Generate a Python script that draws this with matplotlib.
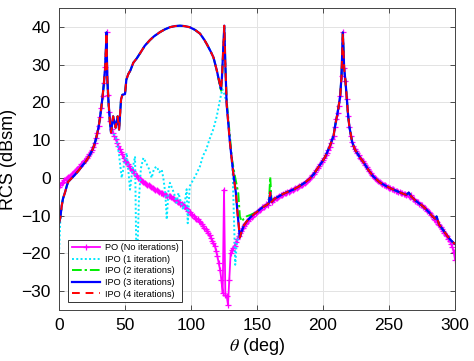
import numpy as np
import matplotlib
matplotlib.use("Agg")
import matplotlib.pyplot as plt

plt.rcParams['font.family'] = ['Liberation Sans', 'DejaVu Sans']
plt.rcParams['mathtext.fontset'] = 'stix'

# ---------------- data ----------------
# PO (no iterations), sampled every degree 0..300
po_theta = np.arange(0, 301)
po_db = [
    -2.3, -1.8, -1.4, -1.0, -0.6, -0.3, 0.0, 0.2, 0.4, 0.7,          # 0-9
    1.0, 1.3, 1.7, 2.0, 2.4, 2.8, 3.2, 3.6, 4.0, 4.4,                # 10-19
    4.8, 5.2, 5.7, 6.2, 6.8, 7.4, 8.2, 9.2, 10.6, 12.0,              # 20-29
    13.8, 16.0, 18.5, 21.6, 25.0, 29.3, 38.5, 22.0, 17.5, 15.0,      # 30-39
    13.0, 12.0, 11.0, 10.2, 9.3, 8.4, 7.6, 6.9, 6.2, 5.4,            # 40-49
    4.6, 4.1, 3.6, 3.1, 2.6, 2.1, 1.7, 1.3, 0.9, 0.5,                # 50-59
    0.1, -0.2, -0.5, -0.8, -1.1, -1.3, -1.6, -1.8, -2.0, -2.2,       # 60-69
    -2.5, -2.7, -2.9, -3.1, -3.3, -3.5, -3.7, -3.9, -4.1, -4.3,      # 70-79
    -4.4, -4.5, -4.7, -4.8, -4.9, -5.1, -5.3, -5.5, -5.8, -6.0,      # 80-89
    -6.3, -6.5, -6.8, -7.0, -7.3, -7.5, -7.9, -8.3, -8.7, -9.1,      # 90-99
    -9.5, -9.9, -10.2, -10.5, -10.8, -11.0, -11.4, -11.8, -12.2, -12.7,  # 100-109
    -13.2, -13.6, -14.0, -14.5, -15.2, -15.9, -16.6, -17.3, -18.0, -19.3,  # 110-119
    -20.8, -22.5, -24.3, -27.0, -30.5, -3.1, -31.0, -31.2, -33.6, -27.0,   # 120-129
    -20.0, -19.0, -18.5, -18.0, -17.0, -16.3, -15.5, -14.6, -14.0, -13.3,  # 130-139
    -12.8, -12.3, -11.9, -11.5, -11.0, -10.6, -10.3, -10.0, -9.6, -9.3,    # 140-149
    -9.0, -8.8, -8.4, -8.2, -7.8, -7.7, -7.4, -7.0, -7.2, -6.4,      # 150-159
    -5.5, -6.5, -5.8, -5.6, -5.3, -5.2, -5.0, -4.8, -4.5, -4.4,      # 160-169
    -4.2, -4.0, -3.9, -3.7, -3.6, -3.4, -3.3, -3.1, -3.0, -2.8,      # 170-179
    -2.6, -2.4, -2.2, -2.0, -1.8, -1.6, -1.3, -1.0, -0.7, -0.4,      # 180-189
    -0.1, 0.3, 0.7, 1.1, 1.6, 2.1, 2.6, 3.1, 3.6, 4.1,               # 190-199
    4.7, 5.3, 6.0, 6.7, 7.4, 8.3, 9.3, 10.2, 11.2, 13.5,             # 200-209
    15.5, 17.2, 19.0, 21.6, 27.0, 38.5, 29.0, 25.6, 21.0, 16.5,      # 210-219
    13.5, 11.2, 9.6, 8.5, 7.6, 7.0, 6.5, 6.0, 5.4, 4.9,              # 220-229
    4.4, 4.0, 3.4, 2.8, 2.3, 1.8, 1.3, 0.8, 0.4, 0.0,                # 230-239
    -0.3, -0.6, -0.9, -1.2, -1.4, -1.6, -1.8, -2.0, -2.2, -2.4,      # 240-249
    -2.6, -2.8, -2.9, -3.0, -3.2, -3.4, -3.5, -3.7, -3.8, -3.9,      # 250-259
    -4.1, -4.2, -4.3, -4.5, -4.3, -4.8, -5.0, -4.6, -5.5, -5.6,      # 260-269
    -6.0, -6.3, -6.5, -6.8, -7.1, -7.3, -7.6, -8.0, -8.3, -8.7,      # 270-279
    -9.0, -9.4, -9.9, -10.3, -10.8, -11.2, -11.7, -12.1, -12.6, -13.0,   # 280-289
    -13.5, -14.0, -14.5, -15.0, -15.5, -16.1, -16.8, -17.4, -18.3, -19.5,  # 290-299
    -21.7,                                                           # 300
]

# Converged IPO (3 and 4 iterations coincide)
ipo_theta = [0, 1, 2, 3, 4.5, 6, 7, 9, 12, 15, 18, 20, 22, 24, 26, 28, 29, 30, 31, 32,
             33, 34, 35, 36, 36.5, 37.4, 38.5, 39.4, 41, 42.9, 44.4, 45.5, 47, 48, 50, 51,
             52.5, 54, 56.3, 58.8, 61.4, 65, 68.9, 72, 76.5, 80, 84, 88, 91.7, 95, 99, 103,
             106.8, 110, 112, 115, 117, 119.5, 121.9, 122.7, 123.5, 125.2, 126, 127, 129.5,
             132, 134, 135, 136, 137, 138, 140, 142, 145, 148, 150, 153, 156, 158, 159, 160,
             161, 163, 166, 170, 174, 178, 182, 186, 190, 193, 196, 199, 201.5, 203, 205,
             207, 208, 209, 211, 213, 214, 215, 216, 217, 218, 219, 220, 222, 224, 226, 228,
             231, 234, 238, 243, 248, 252, 256, 260, 263, 265, 267, 270, 273, 276, 280, 283,
             285, 286, 288, 291, 294, 296, 298, 300]
ipo_conv_db = [-12, -10.5, -7.5, -5.5, -3.9, -2, -1, -0.3, 0.8, 2.0, 3.4, 4.2, 5.3, 6.5, 8.0,
               10.3, 11.8, 13.5, 15.8, 18.5, 21.6, 25, 29.3, 38.5, 27, 20.8, 15, 12, 16.3,
               13.3, 16.3, 12.8, 20.8, 22, 22.2, 26, 27.5, 28.4, 30.5, 31.6, 33, 35, 36.5,
               37.5, 38.6, 39.3, 39.9, 40.2, 40.3, 40.2, 39.9, 39.2, 38.2, 36.6, 35.4, 33.4,
               31.9, 28.5, 24.8, 23.5, 27, 40.3, 30, 19.5, 9.3, 1.3, -4, -8.4, -12, -15.8,
               -14.5, -12.6, -11.6, -10.4, -9.5, -9.0, -8.1, -7.4, -7.0, -6.6, -3.8, -6.4,
               -5.6, -5.0, -4.2, -3.6, -3.0, -2.2, -1.3, -0.2, 1.0, 2.6, 4.1, 5.5, 6.7, 8.3,
               10.2, 11.2, 13.5, 17.2, 21.6, 27, 38.5, 29, 25.6, 21, 16.5, 13.5, 9.6, 7.6,
               6.5, 5.4, 4.0, 2.3, 0.4, -1.2, -2.2, -2.9, -3.5, -4.1, -4.5, -3.9, -5.0, -6.0,
               -6.8, -7.6, -9.0, -10.2, -10.8, -10.2, -12.4, -13.8, -15.3, -16.2, -16.9, -17.5]

# IPO (2 iterations): differs from the converged curve between 119 and 167 deg
ipo2_seg_theta = [119.5, 121, 122.7, 123.5, 125.2, 126, 127, 129.5, 131, 133.3, 135.8, 137,
                  138.4, 140, 142, 145, 148, 150, 153, 156, 158, 159, 160, 161, 163, 166]
ipo2_seg_db = [28.5, 25.8, 22.8, 26.5, 40.2, 30, 20.5, 11, 5, 0.4, -4, -10.2, -11.5, -10.8,
               -10.2, -9.8, -9.3, -9.0, -8.0, -7.4, -7.0, -6.5, 0.3, -6.2, -5.4, -5.0]

# IPO (1 iteration): its own start and its own middle section 36.5..136 deg
ipo1_start_theta = [0, 1, 2]
ipo1_start_db = [-20, -11, -7.5]
ipo1_seg_theta = [37, 38, 39, 40, 42, 43.7, 45.5, 47.5, 49.5, 51.3, 53.8, 55.5, 57.6, 58.8,
                  60.5, 62, 63.9, 66, 68, 70.2, 72, 74, 76, 77.8, 79, 80.5, 81.6, 83, 84, 86,
                  88, 89, 90.5, 92, 94, 95.5, 96.7, 97.5, 99, 101.7, 104, 106.8, 109, 111.5,
                  114, 117, 119.5, 122, 123.7, 125.5, 127, 129.5, 131.5, 132.5, 133.5, 134.5,
                  135.6, 137]
ipo1_seg_db = [21, 17, 14.5, 12.5, 11.3, 10.2, 6, 0, 4, 6.6, -3.1, 2, 5.7, -27, -6, 2.5, 5.3,
               4, 2.5, 0, 2.5, 3, 1.5, 2.2, 0, -4, -11, -3, -1.3, -3, -5, -6.6, -4, -6, -8.4,
               -6, -3, -12, -2.2, -0.5, 1, 3.1, 5.8, 7.5, 10.2, 13, 16.3, 20.8, 23.5, 22,
               19.5, 9.3, 2, -10, -23, -18, -15.5, -15.8]

labels = ['PO (No iterations)', 'IPO (1 iteration)', 'IPO (2 iterations)',
          'IPO (3 iterations)', 'IPO (4 iterations)']

# ---------------- assemble series ----------------
t_conv = np.array(ipo_theta, float)
d_conv = np.array(ipo_conv_db, float)

m2 = (t_conv < ipo2_seg_theta[0]) | (t_conv > ipo2_seg_theta[-1])
t2 = np.concatenate([t_conv[m2], ipo2_seg_theta])
d2 = np.concatenate([d_conv[m2], ipo2_seg_db])
o = np.argsort(t2, kind='stable'); t2, d2 = t2[o], d2[o]

m1 = ((t_conv > ipo1_start_theta[-1]) & (t_conv < ipo1_seg_theta[0])) | (t_conv > ipo1_seg_theta[-1])
t1 = np.concatenate([ipo1_start_theta, t_conv[m1], ipo1_seg_theta])
d1 = np.concatenate([ipo1_start_db, d_conv[m1], ipo1_seg_db])
o = np.argsort(t1, kind='stable'); t1, d1 = t1[o], d1[o]

# ---------------- plot ----------------
fig = plt.figure(figsize=(4.74, 3.61), dpi=100)
ax = fig.add_axes([0.1245, 0.141, 0.8355, 0.837])

ax.plot(po_theta, po_db, color='#ff00ff', lw=1.3, marker='+', ms=5, mew=0.9, label=labels[0])
ax.plot(t1, d1, color='#00e8ff', lw=1.4, ls=(0, (1, 1.2)), label=labels[1])
ax.plot(t2, d2, color='#00ee00', lw=1.4, ls=(0, (5, 1.5, 1.2, 1.5)), label=labels[2])
ax.plot(t_conv, d_conv, color='#0000ff', lw=1.6, ls='-', label=labels[3])
ax.plot(t_conv, d_conv, color='#ff0000', lw=1.4, ls=(0, (4, 3)), label=labels[4])

ax.set_xlim(0, 300)
ax.set_ylim(-35, 45)
ax.set_xticks(np.arange(0, 301, 50))
ax.set_yticks(np.arange(-30, 41, 10))
ax.grid(True, color='#e3e3e3', lw=0.7)
ax.set_axisbelow(True)
ax.tick_params(direction='in', top=True, right=True, length=3.5, width=0.6,
               labelsize=12.5, color='#333333', pad=6)
for s in ax.spines.values():
    s.set_color('#444444')
    s.set_linewidth(0.7)

ax.set_xlabel(r'$\theta$ (deg)', fontsize=13, labelpad=2)
ax.set_ylabel('RCS (dBsm)', fontsize=13, labelpad=3)

leg = ax.legend(loc='lower left', bbox_to_anchor=(0.023, 0.026), borderaxespad=0,
                fontsize=6.6, handlelength=3.1, labelspacing=0.28, handletextpad=0.5,
                borderpad=0.4, fancybox=False, framealpha=1, edgecolor='#333333')
leg.get_frame().set_linewidth(0.7)

fig.savefig('out.png', dpi=100)
